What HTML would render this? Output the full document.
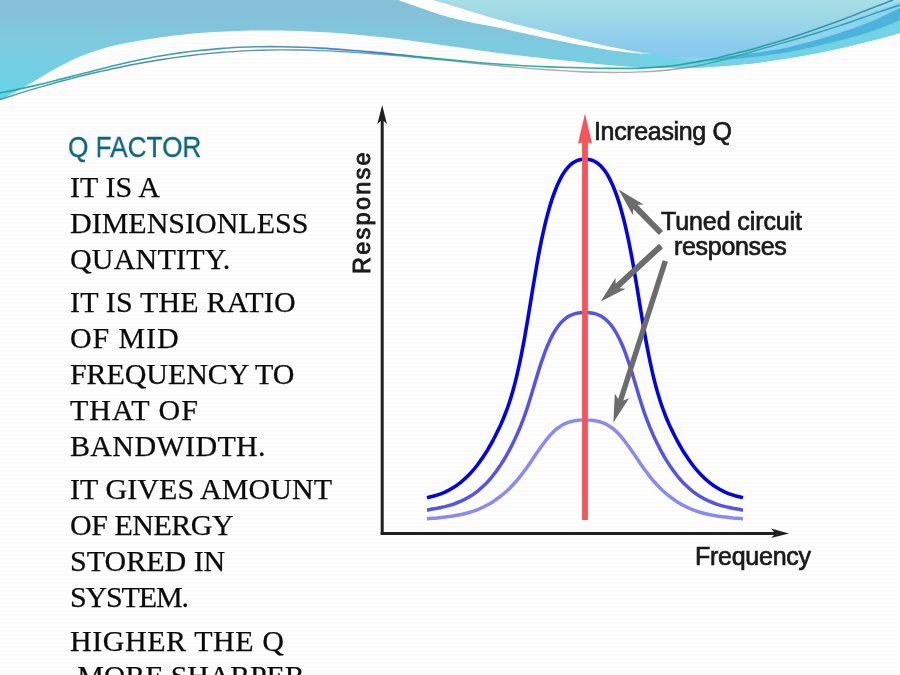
<!DOCTYPE html>
<html><head><meta charset="utf-8"><title>Q FACTOR</title>
<style>
html,body{margin:0;padding:0;}
body{width:900px;height:675px;overflow:hidden;position:relative;background:#fcfcfd;font-family:"Liberation Sans",sans-serif;}
#bg{position:absolute;left:0;top:0;width:900px;height:675px;background:repeating-linear-gradient(180deg,#fefefe 0px,#fefefe 2px,#fcfcfd 2px,#fcfcfd 4px);}
svg{position:absolute;left:0;top:0;}
#title{will-change:transform;position:absolute;left:67.5px;top:130.6px;font-size:29.2px;line-height:32px;color:#0b6580;-webkit-text-stroke:0.3px #0b6580;white-space:nowrap;transform-origin:0 0;transform:scaleX(0.897);}
#body{will-change:transform;position:absolute;left:69.5px;top:0;font-family:"Liberation Serif",serif;font-size:30px;color:#0a0a0a;white-space:nowrap;-webkit-text-stroke:0.25px #0a0a0a;}
#body div{position:absolute;left:0;line-height:36px;height:36px;}
.lbl{position:absolute;will-change:transform;font-size:25px;line-height:28px;color:#1a1a1a;white-space:nowrap;-webkit-text-stroke:0.7px #1a1a1a;}
</style></head><body>
<div id="bg"></div>
<svg width="900" height="675" viewBox="0 0 900 675">
<defs>
<linearGradient id="gA" x1="0" y1="0" x2="0" y2="100" gradientUnits="userSpaceOnUse">
<stop offset="0" stop-color="#87bed6"/><stop offset="0.5" stop-color="#7ccbe0"/><stop offset="1" stop-color="#62d4e6"/></linearGradient>
<linearGradient id="gB" x1="0" y1="0" x2="0" y2="58" gradientUnits="userSpaceOnUse">
<stop offset="0" stop-color="#a8dee4"/><stop offset="1" stop-color="#84c6ee"/></linearGradient>
<linearGradient id="gL" x1="0" y1="0" x2="900" y2="0" gradientUnits="userSpaceOnUse">
<stop offset="0" stop-color="#18a8a0"/><stop offset="0.12" stop-color="#18a090"/><stop offset="0.28" stop-color="#3a90b0"/><stop offset="0.38" stop-color="#2c78c0"/><stop offset="0.43" stop-color="#2070c0"/><stop offset="0.475" stop-color="#18a0a0"/><stop offset="0.55" stop-color="#18a898"/><stop offset="0.8" stop-color="#18a0a0"/><stop offset="1" stop-color="#3088b0"/></linearGradient>
<linearGradient id="gL2" x1="0" y1="0" x2="900" y2="0" gradientUnits="userSpaceOnUse">
<stop offset="0" stop-color="#2888b0"/><stop offset="0.2" stop-color="#3070b0"/><stop offset="0.4" stop-color="#5090b8"/><stop offset="0.6" stop-color="#a0a0a0"/><stop offset="0.72" stop-color="#b09890"/><stop offset="0.8" stop-color="#30a090"/><stop offset="1" stop-color="#2090b0"/></linearGradient>
</defs>
<path d="M0,0 L900,0 L900,33.0 L900.0,33.0 C896.7,34.0 886.7,36.8 880.0,38.5 C873.3,40.3 866.7,42.0 860.0,43.6 C853.3,45.3 846.7,46.8 840.0,48.3 C833.3,49.8 826.7,51.2 820.0,52.5 C813.3,53.9 806.7,55.1 800.0,56.3 C793.3,57.5 786.7,58.6 780.0,59.6 C773.3,60.6 766.7,61.5 760.0,62.4 C753.3,63.2 746.7,64.0 740.0,64.6 C733.3,65.3 726.7,65.8 720.0,66.3 C713.3,66.8 706.7,67.2 700.0,67.4 C693.3,67.7 686.7,67.9 680.0,68.0 C673.3,68.1 666.7,68.0 660.0,67.9 C653.3,67.8 646.7,67.5 640.0,67.2 C633.3,66.9 626.7,66.4 620.0,65.9 C613.3,65.4 606.7,64.9 600.0,64.2 C593.3,63.6 586.7,62.9 580.0,62.2 C573.3,61.5 566.7,60.8 560.0,60.1 C553.3,59.3 546.7,58.6 540.0,57.8 C533.3,57.1 526.7,56.4 520.0,55.6 C513.3,54.8 506.7,54.0 500.0,53.2 C493.3,52.3 486.7,51.4 480.0,50.5 C473.3,49.6 466.7,48.6 460.0,47.6 C453.3,46.7 446.7,45.7 440.0,44.7 C433.3,43.7 426.7,42.8 420.0,41.9 C413.3,40.9 406.7,40.0 400.0,39.2 C393.3,38.4 386.7,37.6 380.0,36.9 C373.3,36.2 366.7,35.5 360.0,34.9 C353.3,34.3 346.7,33.8 340.0,33.3 C333.3,32.8 326.7,32.4 320.0,32.0 C313.3,31.7 306.7,31.4 300.0,31.1 C293.3,30.9 286.7,30.7 280.0,30.6 C273.3,30.5 266.7,30.5 260.0,30.6 C253.3,30.6 246.7,30.7 240.0,30.9 C233.3,31.1 226.7,31.4 220.0,31.8 C213.3,32.1 206.7,32.6 200.0,33.1 C193.3,33.6 186.7,34.2 180.0,35.0 C173.3,35.7 166.7,36.5 160.0,37.4 C153.3,38.3 146.7,39.3 140.0,40.4 C133.3,41.6 126.7,42.7 120.0,44.2 C113.3,45.7 106.7,47.3 100.0,49.4 C93.3,51.5 86.7,53.8 80.0,56.6 C73.3,59.4 66.7,62.7 60.0,66.2 C53.3,69.7 46.7,73.8 40.0,77.7 C33.3,81.5 26.7,85.7 20.0,89.5 C13.3,93.2 3.3,98.5 0.0,100.3 Z" fill="url(#gA)"/>
<path d="M640,0 L900,0 L900,33.0 L900.0,33.0 C896.7,34.0 886.7,36.8 880.0,38.5 C873.3,40.3 866.7,42.0 860.0,43.6 C853.3,45.3 846.7,46.8 840.0,48.3 C833.3,49.8 826.7,51.2 820.0,52.5 C813.3,53.9 806.7,55.1 800.0,56.3 C793.3,57.5 786.7,58.6 780.0,59.6 C773.3,60.6 766.7,61.5 760.0,62.4 C753.3,63.2 746.7,64.0 740.0,64.6 C733.3,65.3 726.7,65.8 720.0,66.3 C713.3,66.8 706.7,67.2 700.0,67.4 C693.3,67.7 686.7,67.9 680.0,68.0 C673.3,68.1 666.7,68.0 660.0,67.9 C653.3,67.8 643.3,67.3 640.0,67.2 Z" fill="#72d2e6"/>
<path d="M433.0,0.0 C435.8,0.8 438.8,1.7 450.0,5.0 C461.2,8.3 483.3,15.4 500.0,20.0 C516.7,24.6 533.3,28.4 550.0,32.5 C566.7,36.6 586.7,41.5 600.0,44.5 C613.3,47.5 621.3,48.8 630.0,50.5 C638.7,52.2 648.3,53.8 652.0,54.5 L673.0,57.0 C677.5,57.1 691.0,57.8 700.0,57.5 C709.0,57.2 718.2,56.2 727.0,55.0 C735.8,53.8 744.2,52.5 753.0,50.5 C761.8,48.5 767.2,46.8 780.0,43.0 C792.8,39.2 815.0,33.0 830.0,28.0 C845.0,23.0 858.3,17.3 870.0,13.0 C881.7,8.7 895.0,3.8 900.0,2.0 L900,0 Z" fill="url(#gB)"/>
<path d="M652.0,54.5 C655.5,54.9 665.0,56.5 673.0,57.0 C681.0,57.5 691.0,57.8 700.0,57.5 C709.0,57.2 718.2,56.2 727.0,55.0 C735.8,53.8 744.2,52.5 753.0,50.5 C761.8,48.5 767.2,46.8 780.0,43.0 C792.8,39.2 815.0,33.0 830.0,28.0 C845.0,23.0 858.3,17.3 870.0,13.0 C881.7,8.7 895.0,3.8 900.0,2.0 L900,8 L900.0,8.0 C895.0,10.3 881.7,17.3 870.0,22.0 C858.3,26.7 845.0,31.5 830.0,36.0 C815.0,40.5 796.7,45.7 780.0,49.0 C763.3,52.3 744.0,54.0 730.0,56.0 C716.0,58.0 701.7,60.2 696.0,61.0 Z" fill="#8cd4f0"/>
<path d="M696.0,61.0 C701.7,60.2 716.0,58.0 730.0,56.0 C744.0,54.0 763.3,52.3 780.0,49.0 C796.7,45.7 815.0,40.5 830.0,36.0 C845.0,31.5 858.3,26.7 870.0,22.0 C881.7,17.3 895.0,10.3 900.0,8.0 L900.0,20.0 C895.0,22.0 881.7,28.2 870.0,32.0 C858.3,35.8 845.0,39.4 830.0,43.0 C815.0,46.6 796.7,50.8 780.0,53.5 C763.3,56.2 744.0,58.2 730.0,59.5 C716.0,60.8 701.7,60.8 696.0,61.0 Z" fill="#4cb4dc"/>
<path d="M398.0,0.0 C406.7,2.9 433.0,12.8 450.0,17.5 C467.0,22.2 483.3,24.4 500.0,28.0 C516.7,31.6 533.3,35.6 550.0,39.0 C566.7,42.4 586.7,46.2 600.0,48.5 C613.3,50.8 621.3,51.5 630.0,52.5 C638.7,53.5 648.3,54.2 652.0,54.5 L652.0,54.5 C648.3,53.8 638.7,52.2 630.0,50.5 C621.3,48.8 613.3,47.5 600.0,44.5 C586.7,41.5 566.7,36.6 550.0,32.5 C533.3,28.4 516.7,24.6 500.0,20.0 C483.3,15.4 461.2,8.3 450.0,5.0 C438.8,1.7 435.8,0.8 433.0,0.0 Z" fill="#ffffff"/>
<path d="M0.0,99.6 C3.3,98.5 13.3,95.3 20.0,93.2 C26.7,91.1 33.3,89.1 40.0,87.2 C46.7,85.2 53.3,83.3 60.0,81.5 C66.7,79.7 73.3,78.0 80.0,76.3 C86.7,74.6 93.3,73.0 100.0,71.5 C106.7,70.0 113.3,68.5 120.0,67.2 C126.7,65.8 133.3,64.5 140.0,63.3 C146.7,62.0 153.3,60.9 160.0,59.8 C166.7,58.8 173.3,57.8 180.0,56.9 C186.7,56.0 193.3,55.2 200.0,54.4 C206.7,53.7 213.3,53.1 220.0,52.5 C226.7,51.9 233.3,51.5 240.0,51.1 C246.7,50.7 253.3,50.4 260.0,50.2 C266.7,50.0 273.3,49.9 280.0,49.9 C286.7,49.9 293.3,49.9 300.0,50.0 C306.7,50.1 313.3,50.3 320.0,50.6 C326.7,50.8 333.3,51.1 340.0,51.5 C346.7,51.8 353.3,52.3 360.0,52.7 C366.7,53.2 373.3,53.7 380.0,54.2 C386.7,54.7 393.3,55.3 400.0,55.9 C406.7,56.5 413.3,57.1 420.0,57.8 C426.7,58.4 433.3,59.1 440.0,59.7 C446.7,60.4 453.3,61.1 460.0,61.7 C466.7,62.4 473.3,63.1 480.0,63.8 C486.7,64.4 493.3,65.1 500.0,65.7 C506.7,66.4 513.3,67.0 520.0,67.6 C526.7,68.2 533.3,68.7 540.0,69.2 C546.7,69.7 553.3,70.2 560.0,70.6 C566.7,71.0 573.3,71.4 580.0,71.7 C586.7,72.0 593.3,72.2 600.0,72.3 C606.7,72.4 613.3,72.5 620.0,72.4 C626.7,72.4 633.3,72.2 640.0,71.9 C646.7,71.6 653.3,71.2 660.0,70.7 C666.7,70.1 673.3,69.4 680.0,68.5 C686.7,67.6 693.3,66.6 700.0,65.2 C706.7,63.9 713.3,62.3 720.0,60.6 C726.7,59.0 733.3,57.0 740.0,55.1 C746.7,53.2 753.3,51.3 760.0,49.4 C766.7,47.5 773.3,45.6 780.0,43.7 C786.7,41.8 793.3,39.9 800.0,38.0 C806.7,36.1 813.3,34.1 820.0,32.0 C826.7,30.0 833.3,27.8 840.0,25.6 C846.7,23.4 853.3,21.0 860.0,18.7 C866.7,16.3 873.3,13.9 880.0,11.7 C886.7,9.4 896.7,6.1 900.0,4.9" fill="none" stroke="url(#gL2)" stroke-width="1.4" stroke-opacity="0.85"/>
<path d="M0.0,92.9 C3.3,92.2 13.3,90.4 20.0,88.9 C26.7,87.5 33.3,86.0 40.0,84.4 C46.7,82.8 53.3,81.1 60.0,79.4 C66.7,77.7 73.3,76.0 80.0,74.3 C86.7,72.6 93.3,70.8 100.0,69.2 C106.7,67.5 113.3,65.8 120.0,64.3 C126.7,62.7 133.3,61.2 140.0,59.8 C146.7,58.5 153.3,57.2 160.0,56.0 C166.7,54.9 173.3,53.9 180.0,52.9 C186.7,52.0 193.3,51.2 200.0,50.5 C206.7,49.8 213.3,49.1 220.0,48.6 C226.7,48.1 233.3,47.7 240.0,47.3 C246.7,47.0 253.3,46.8 260.0,46.7 C266.7,46.6 273.3,46.6 280.0,46.7 C286.7,46.8 293.3,46.9 300.0,47.2 C306.7,47.4 313.3,47.7 320.0,48.1 C326.7,48.5 333.3,48.9 340.0,49.4 C346.7,49.9 353.3,50.5 360.0,51.0 C366.7,51.6 373.3,52.2 380.0,52.9 C386.7,53.5 393.3,54.2 400.0,54.9 C406.7,55.5 413.3,56.2 420.0,56.9 C426.7,57.6 433.3,58.3 440.0,58.9 C446.7,59.6 453.3,60.3 460.0,60.9 C466.7,61.5 473.3,62.1 480.0,62.7 C486.7,63.2 493.3,63.8 500.0,64.2 C506.7,64.7 513.3,65.1 520.0,65.5 C526.7,65.9 533.3,66.2 540.0,66.5 C546.7,66.8 553.3,67.0 560.0,67.3 C566.7,67.5 573.3,67.6 580.0,67.8 C586.7,68.0 593.3,68.1 600.0,68.2 C606.7,68.3 613.3,68.4 620.0,68.4 C626.7,68.4 633.3,68.4 640.0,68.1 C646.7,67.9 653.3,67.5 660.0,66.9 C666.7,66.3 673.3,65.6 680.0,64.7 C686.7,63.8 693.3,62.7 700.0,61.4 C706.7,60.2 713.3,58.8 720.0,57.2 C726.7,55.7 733.3,54.0 740.0,52.3 C746.7,50.6 753.3,48.8 760.0,47.0 C766.7,45.1 773.3,43.2 780.0,41.1 C786.7,39.1 793.3,36.9 800.0,34.7 C806.7,32.5 813.3,30.2 820.0,27.8 C826.7,25.4 833.3,23.0 840.0,20.5 C846.7,18.0 853.3,15.4 860.0,12.8 C866.7,10.3 874.5,7.2 880.0,5.1 C885.5,2.9 890.8,0.8 893.0,0.0" fill="none" stroke="url(#gL)" stroke-width="1.6" stroke-opacity="0.9"/>

<!-- chart -->
<g fill="none" stroke-linecap="butt">
<path d="M383.7,535.0 L383.7,121.0 L386.9,124.0 L382.2,105.0 L377.4,124.0 L380.7,121.0 L380.7,535.0 Z" fill="#202020" stroke="none"/>
<path d="M380.7,534.9 L774.0,534.9 L771.0,538.1 L789.0,533.4 L771.0,528.6 L774.0,531.9 L380.7,531.9 Z" fill="#202020" stroke="none"/>
<path d="M427.0,518.8 C427.3,518.8 427.3,518.8 429.0,518.6 C430.7,518.5 434.3,518.1 437.0,517.9 C439.7,517.6 442.3,517.3 445.0,517.0 C447.7,516.7 450.3,516.4 453.0,516.0 C455.7,515.5 458.3,515.1 461.0,514.5 C463.7,513.9 466.3,513.3 469.0,512.5 C471.7,511.7 474.3,510.8 477.0,509.8 C479.7,508.8 483.0,507.2 485.0,506.2 C487.0,505.3 487.7,504.8 489.0,504.1 C490.3,503.3 491.7,502.5 493.0,501.7 C494.3,500.8 495.7,499.9 497.0,498.9 C498.3,498.0 499.7,497.0 501.0,495.9 C502.3,494.9 503.7,493.7 505.0,492.6 C506.3,491.4 507.7,490.2 509.0,488.9 C510.3,487.6 511.7,486.2 513.0,484.8 C514.3,483.3 515.7,481.9 517.0,480.3 C518.3,478.7 519.7,477.1 521.0,475.4 C522.3,473.7 523.7,471.9 525.0,470.1 C526.3,468.3 527.7,466.4 529.0,464.5 C530.3,462.5 531.7,460.5 533.0,458.6 C534.3,456.6 535.7,454.6 537.0,452.7 C538.3,450.7 539.7,448.8 541.0,446.9 C542.3,445.1 543.7,443.2 545.0,441.5 C546.3,439.7 547.7,438.1 549.0,436.5 C550.3,435.0 551.7,433.5 553.0,432.2 C554.3,430.9 555.7,429.7 557.0,428.7 C558.3,427.6 559.7,426.7 561.0,425.9 C562.3,425.0 563.7,424.3 565.0,423.7 C566.3,423.1 567.7,422.6 569.0,422.2 C570.3,421.7 571.7,421.4 573.0,421.1 C574.3,420.8 575.7,420.6 577.0,420.4 C578.3,420.3 579.7,420.1 581.0,420.1 C582.3,420.0 583.7,419.9 585.0,419.9 C586.3,419.9 587.7,420.0 589.0,420.1 C590.3,420.1 591.7,420.3 593.0,420.4 C594.3,420.6 595.7,420.8 597.0,421.1 C598.3,421.4 599.7,421.7 601.0,422.2 C602.3,422.6 603.7,423.1 605.0,423.7 C606.3,424.3 607.7,425.0 609.0,425.9 C610.3,426.7 611.7,427.6 613.0,428.7 C614.3,429.7 615.7,430.9 617.0,432.2 C618.3,433.5 619.7,435.0 621.0,436.5 C622.3,438.1 623.7,439.7 625.0,441.5 C626.3,443.2 627.7,445.1 629.0,446.9 C630.3,448.8 631.7,450.7 633.0,452.7 C634.3,454.6 635.7,456.6 637.0,458.6 C638.3,460.5 639.7,462.5 641.0,464.5 C642.3,466.4 643.7,468.3 645.0,470.1 C646.3,471.9 647.7,473.7 649.0,475.4 C650.3,477.1 651.7,478.7 653.0,480.3 C654.3,481.9 655.7,483.3 657.0,484.8 C658.3,486.2 659.7,487.6 661.0,488.9 C662.3,490.2 663.7,491.4 665.0,492.6 C666.3,493.7 667.7,494.9 669.0,495.9 C670.3,497.0 671.7,498.0 673.0,498.9 C674.3,499.9 675.7,500.8 677.0,501.7 C678.3,502.5 679.7,503.3 681.0,504.1 C682.3,504.8 683.0,505.3 685.0,506.2 C687.0,507.2 690.3,508.8 693.0,509.8 C695.7,510.8 698.3,511.7 701.0,512.5 C703.7,513.3 706.3,513.9 709.0,514.5 C711.7,515.1 714.3,515.5 717.0,516.0 C719.7,516.4 722.3,516.7 725.0,517.0 C727.7,517.3 730.3,517.6 733.0,517.9 C735.7,518.1 739.3,518.5 741.0,518.6 C742.7,518.8 742.7,518.8 743.0,518.8" stroke="#8a8af0" stroke-width="3.5"/>
<path d="M427.0,510.0 C427.3,510.0 427.3,510.0 429.0,509.7 C430.7,509.4 434.3,508.8 437.0,508.3 C439.7,507.7 442.3,507.2 445.0,506.6 C447.7,505.9 450.3,505.2 453.0,504.3 C455.7,503.4 458.3,502.4 461.0,501.2 C463.7,500.0 466.3,498.7 469.0,497.1 C471.7,495.5 474.3,493.7 477.0,491.6 C479.7,489.5 483.0,486.4 485.0,484.5 C487.0,482.6 487.7,481.8 489.0,480.3 C490.3,478.8 491.7,477.2 493.0,475.5 C494.3,473.9 495.7,472.1 497.0,470.3 C498.3,468.4 499.7,466.5 501.0,464.4 C502.3,462.4 503.7,460.2 505.0,458.0 C506.3,455.7 507.7,453.3 509.0,450.9 C510.3,448.4 511.7,445.8 513.0,443.1 C514.3,440.4 515.7,437.5 517.0,434.6 C518.3,431.6 519.7,428.5 521.0,425.1 C522.3,421.8 523.7,418.3 525.0,414.5 C526.3,410.7 527.7,406.7 529.0,402.5 C530.3,398.3 531.7,393.7 533.0,389.3 C534.3,384.9 535.7,380.2 537.0,375.9 C538.3,371.6 539.7,367.3 541.0,363.3 C542.3,359.3 543.7,355.6 545.0,352.0 C546.3,348.5 547.7,345.2 549.0,342.3 C550.3,339.3 551.7,336.6 553.0,334.2 C554.3,331.7 555.7,329.6 557.0,327.7 C558.3,325.8 559.7,324.1 561.0,322.6 C562.3,321.2 563.7,319.9 565.0,318.8 C566.3,317.8 567.7,316.9 569.0,316.1 C570.3,315.4 571.7,314.8 573.0,314.3 C574.3,313.9 575.7,313.5 577.0,313.3 C578.3,313.0 579.7,312.9 581.0,312.8 C582.3,312.7 583.7,312.6 585.0,312.6 C586.3,312.6 587.7,312.7 589.0,312.8 C590.3,312.9 591.7,313.0 593.0,313.3 C594.3,313.5 595.7,313.9 597.0,314.3 C598.3,314.8 599.7,315.4 601.0,316.1 C602.3,316.9 603.7,317.8 605.0,318.8 C606.3,319.9 607.7,321.2 609.0,322.6 C610.3,324.1 611.7,325.8 613.0,327.7 C614.3,329.6 615.7,331.7 617.0,334.2 C618.3,336.6 619.7,339.3 621.0,342.3 C622.3,345.2 623.7,348.5 625.0,352.0 C626.3,355.6 627.7,359.3 629.0,363.3 C630.3,367.3 631.7,371.6 633.0,375.9 C634.3,380.2 635.7,384.9 637.0,389.3 C638.3,393.7 639.7,398.3 641.0,402.5 C642.3,406.7 643.7,410.7 645.0,414.5 C646.3,418.3 647.7,421.8 649.0,425.1 C650.3,428.5 651.7,431.6 653.0,434.6 C654.3,437.5 655.7,440.4 657.0,443.1 C658.3,445.8 659.7,448.4 661.0,450.9 C662.3,453.3 663.7,455.7 665.0,458.0 C666.3,460.2 667.7,462.4 669.0,464.4 C670.3,466.5 671.7,468.4 673.0,470.3 C674.3,472.1 675.7,473.9 677.0,475.5 C678.3,477.2 679.7,478.8 681.0,480.3 C682.3,481.8 683.0,482.6 685.0,484.5 C687.0,486.4 690.3,489.5 693.0,491.6 C695.7,493.7 698.3,495.5 701.0,497.1 C703.7,498.7 706.3,500.0 709.0,501.2 C711.7,502.4 714.3,503.4 717.0,504.3 C719.7,505.2 722.3,505.9 725.0,506.6 C727.7,507.2 730.3,507.7 733.0,508.3 C735.7,508.8 739.3,509.4 741.0,509.7 C742.7,510.0 742.7,510.0 743.0,510.0" stroke="#5454e6" stroke-width="3.5"/>
<path d="M427.0,497.7 C427.3,497.6 427.3,497.7 429.0,497.2 C430.7,496.8 434.3,496.0 437.0,495.1 C439.7,494.3 442.3,493.3 445.0,492.1 C447.7,490.8 450.3,489.5 453.0,487.8 C455.7,486.2 458.3,484.3 461.0,482.1 C463.7,480.0 466.3,477.6 469.0,474.8 C471.7,472.0 474.3,469.0 477.0,465.5 C479.7,462.0 483.0,457.1 485.0,454.0 C487.0,451.0 487.7,449.7 489.0,447.4 C490.3,445.2 491.7,442.8 493.0,440.3 C494.3,437.8 495.7,435.2 497.0,432.5 C498.3,429.8 499.7,427.1 501.0,424.1 C502.3,421.1 503.7,418.0 505.0,414.5 C506.3,411.1 507.7,407.5 509.0,403.5 C510.3,399.4 511.7,395.1 513.0,390.4 C514.3,385.6 515.7,380.5 517.0,374.8 C518.3,369.2 519.7,363.1 521.0,356.5 C522.3,349.9 523.7,342.9 525.0,335.4 C526.3,328.0 527.7,319.9 529.0,311.8 C530.3,303.8 531.7,295.4 533.0,287.3 C534.3,279.3 535.7,271.2 537.0,263.7 C538.3,256.3 539.7,249.2 541.0,242.6 C542.3,236.1 543.7,230.1 545.0,224.5 C546.3,219.0 547.7,213.9 549.0,209.2 C550.3,204.5 551.7,200.3 553.0,196.4 C554.3,192.5 555.7,189.1 557.0,185.9 C558.3,182.8 559.7,180.1 561.0,177.6 C562.3,175.1 563.7,173.0 565.0,171.1 C566.3,169.2 567.7,167.6 569.0,166.2 C570.3,164.9 571.7,163.8 573.0,162.8 C574.3,161.9 575.7,161.2 577.0,160.6 C578.3,160.1 579.7,159.7 581.0,159.4 C582.3,159.1 583.7,159.0 585.0,159.0 C586.3,159.0 587.7,159.1 589.0,159.4 C590.3,159.7 591.7,160.1 593.0,160.6 C594.3,161.2 595.7,161.9 597.0,162.8 C598.3,163.8 599.7,164.9 601.0,166.2 C602.3,167.6 603.7,169.2 605.0,171.1 C606.3,173.0 607.7,175.1 609.0,177.6 C610.3,180.1 611.7,182.8 613.0,185.9 C614.3,189.1 615.7,192.5 617.0,196.4 C618.3,200.3 619.7,204.5 621.0,209.2 C622.3,213.9 623.7,219.0 625.0,224.5 C626.3,230.1 627.7,236.1 629.0,242.6 C630.3,249.2 631.7,256.3 633.0,263.7 C634.3,271.2 635.7,279.3 637.0,287.3 C638.3,295.4 639.7,303.8 641.0,311.8 C642.3,319.9 643.7,328.0 645.0,335.4 C646.3,342.9 647.7,349.9 649.0,356.5 C650.3,363.1 651.7,369.2 653.0,374.8 C654.3,380.5 655.7,385.6 657.0,390.4 C658.3,395.1 659.7,399.4 661.0,403.5 C662.3,407.5 663.7,411.1 665.0,414.5 C666.3,418.0 667.7,421.1 669.0,424.1 C670.3,427.1 671.7,429.8 673.0,432.5 C674.3,435.2 675.7,437.8 677.0,440.3 C678.3,442.8 679.7,445.2 681.0,447.4 C682.3,449.7 683.0,451.0 685.0,454.0 C687.0,457.1 690.3,462.0 693.0,465.5 C695.7,469.0 698.3,472.0 701.0,474.8 C703.7,477.6 706.3,480.0 709.0,482.1 C711.7,484.3 714.3,486.2 717.0,487.8 C719.7,489.5 722.3,490.8 725.0,492.1 C727.7,493.3 730.3,494.3 733.0,495.1 C735.7,496.0 739.3,496.8 741.0,497.2 C742.7,497.7 742.7,497.6 743.0,497.7" stroke="#0404e0" stroke-width="3.6"/>
</g>
<!-- grey arrows -->
<g fill="#6c6c6c"><path d="M663.1,230.9 L637.5,204.7 L643.5,204.4 L618.6,189.6 L632.8,214.9 L633.2,208.9 L658.9,235.1 Z"/><path d="M659.0,243.8 L615.6,283.8 L615.5,277.8 L600.7,301.6 L625.6,288.8 L619.6,288.2 L663.0,248.2 Z"/><path d="M662.7,260.2 L618.2,398.9 L614.8,393.6 L613.4,422.6 L629.1,398.2 L623.3,400.6 L667.9,261.8 Z"/></g>
<path d="M587.9,520.0 L587.9,142.5 L592.0,143.5 L585.0,113.5 L578.0,143.5 L582.1,142.5 L582.1,520.0 Z" fill="#f4545a"/>
</svg>

<div id="title">Q FACTOR</div>
<div id="body">
<div style="top:169.4px;letter-spacing:0.08px">IT IS A</div>
<div style="top:205.2px;letter-spacing:0.00px">DIMENSIONLESS</div>
<div style="top:240.7px;letter-spacing:0.20px">QUANTITY.</div>
<div style="top:284.4px;letter-spacing:0.18px">IT IS THE RATIO</div>
<div style="top:320.2px;letter-spacing:0.90px">OF MID</div>
<div style="top:355.9px;letter-spacing:-0.08px">FREQUENCY TO</div>
<div style="top:391.9px;letter-spacing:1.00px">THAT OF</div>
<div style="top:427.9px;letter-spacing:0.35px">BANDWIDTH.</div>
<div style="top:471.4px;letter-spacing:0.07px">IT GIVES AMOUNT</div>
<div style="top:507.2px;letter-spacing:-0.49px">OF ENERGY</div>
<div style="top:542.9px;letter-spacing:0.00px">STORED IN</div>
<div style="top:578.7px;letter-spacing:-1.15px">SYSTEM.</div>
<div style="top:622.6px;letter-spacing:0.55px">HIGHER THE Q</div>
<div style="top:658.4px;letter-spacing:-0.17px">,MORE SHARPER</div>
</div>
<div class="lbl" style="left:594.2px;top:116.7px;letter-spacing:-0.35px;">Increasing Q</div>
<div class="lbl" style="left:660.5px;top:207.1px;letter-spacing:-0.1px;">Tuned circuit</div>
<div class="lbl" style="left:674px;top:231.7px;letter-spacing:-0.31px;">responses</div>
<div class="lbl" style="left:694.5px;top:541.7px;letter-spacing:-0.26px;">Frequency</div>
<div class="lbl" style="left:291.5px;top:197.5px;width:140px;text-align:center;transform:rotate(-90deg);font-size:23.5px;letter-spacing:2.25px;-webkit-text-stroke:0.9px #1a1a1a;">Response</div>
</body></html>
